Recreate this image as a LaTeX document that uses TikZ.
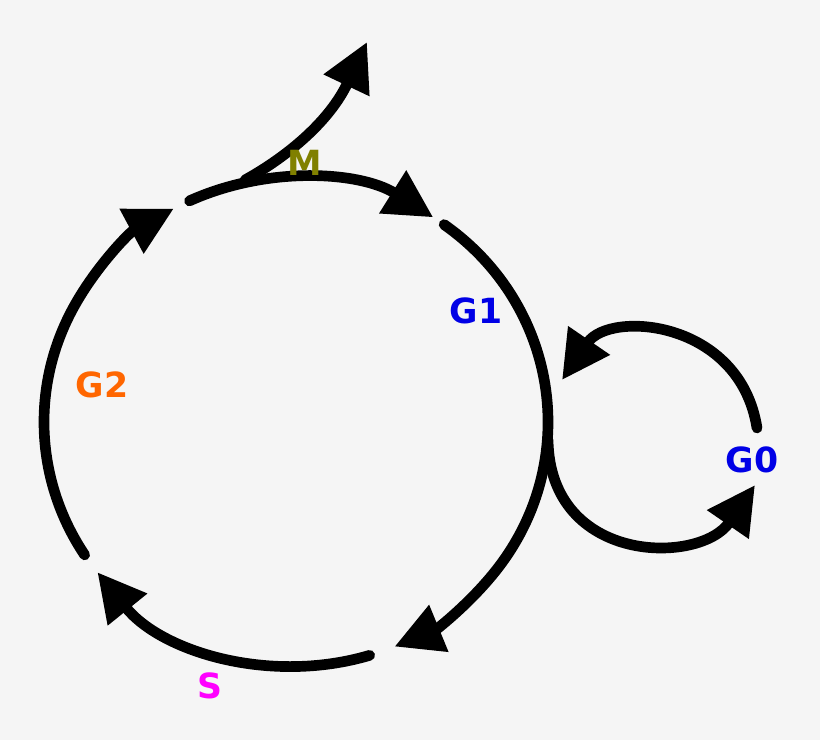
\documentclass[tikz,border=0pt]{standalone}
\usepackage{fontspec}
\setmainfont{DejaVu Sans}
\usetikzlibrary{arrows.meta,calc}
\begin{document}
\begin{tikzpicture}[x=0.75pt,y=0.75pt,
  ln/.style={line width=8pt,line cap=round,-{Triangle[length=36pt,width=36pt]}},
  lab/.style={font=\bfseries\fontsize{26}{30}\selectfont}]
\fill[fill={rgb,255:red,245;green,245;blue,245}] (0,0) rectangle (820,740);
\useasboundingbox (0,0) rectangle (820,740);
\coordinate (c) at (296,318);
\tikzset{ell/.style={x radius=252,y radius=244}}
\draw[ln] ($(c)+(115:252 and 244)$) arc[start angle=115,end angle=57,ell];
\draw[ln] ($(c)+(54:252 and 244)$) arc[start angle=54,end angle=-67,ell];
\draw[ln] ($(c)+(-73:252 and 244)$) arc[start angle=-73,end angle=-142,ell];
\draw[ln] ($(c)+(-147:252 and 244)$) arc[start angle=-147,end angle=-241,ell];
\coordinate (br) at (548,300);
\coordinate (g0a) at (755,255);
\coordinate (g0b) at (757,312);
\coordinate (g1in) at (562,360);
\coordinate (mout) at (367,698);
\coordinate (mst) at (245,560);
\draw[ln] (br) .. controls (550,175) and (700,175) .. (g0a);
\draw[ln] (g0b) .. controls (740,420) and (610,430) .. (g1in);
\draw[ln] (mst) .. controls (290,585) and (330,620) .. (mout);
\node[lab,text={rgb,255:red,128;green,128;blue,0}] (M) at (305,577) {M};
\node[lab,text={rgb,255:red,0;green,0;blue,230}] (G1) at (476,429) {G1};
\node[lab,text={rgb,255:red,255;green,102;blue,0}] (G2) at (102,355) {G2};
\node[lab,text={rgb,255:red,0;green,0;blue,230}] (G0) at (752,280) {G0};
\node[lab,text={rgb,255:red,255;green,0;blue,255}] (S) at (210,54) {S};
\end{tikzpicture}
\end{document}
